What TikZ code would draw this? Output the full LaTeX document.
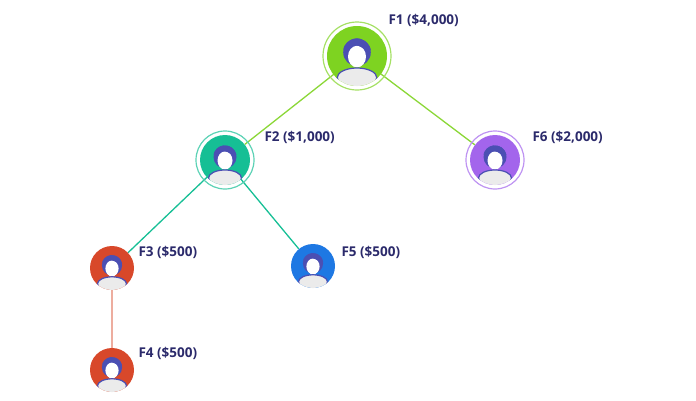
\documentclass[tikz,border=0pt]{standalone}
\usepackage{fontspec}
\setmainfont{Open Sans}
\definecolor{navy}{HTML}{2B2A6B}
\definecolor{hair}{HTML}{4B4FB3}
\definecolor{cgreen}{HTML}{7ED321}
\definecolor{cteal}{HTML}{16BF95}
\definecolor{cpurple}{HTML}{A365EC}
\definecolor{cred}{HTML}{D8482A}
\definecolor{cblue}{HTML}{1E78E3}
\tikzset{
  person/.style={circle,inner sep=0pt,minimum size=#1},
  lbl/.style={text=navy,font=\bfseries\fontsize{13.5}{15}\selectfont,anchor=west},
  pics/avatar/.style n args={3}{code={
    \fill[#2] (0,0) circle (#1);
    \begin{scope}
      \clip (0,0) circle (#1);
      \fill[hair] (0,0.12*#1) circle (0.46*#1);
      \fill[white] (0,-0.02*#1) ellipse ({0.3*#1} and {0.36*#1});
      \fill[hair] (-0.44*#1,0.25*#1) .. controls (-0.2*#1,0.5*#1) and (0.2*#1,0.32*#1) .. (0.34*#1,0.15*#1) -- (0.46*#1,0.2*#1) arc (10:170:0.47*#1) -- cycle;
      \filldraw[fill=black!8,draw=hair,line width=1.2pt] (0,-0.72*#1) ellipse ({0.66*#1} and {0.32*#1});
    \end{scope}
    \ifnum#3=1 \draw[#2!70,line width=1.2pt] (0,0) circle (#1+4pt); \fi
  }}
}
\begin{document}
\begin{tikzpicture}[x=1pt,y=-1pt]
\useasboundingbox (0,0) rectangle (696,400);
\node[person=60] (f1) at (357,56) {};
\node[person=50] (f2) at (225,160) {};
\node[person=50] (f6) at (495,160) {};
\node[person=44] (f3) at (112,268) {};
\node[person=44] (f5) at (313,266) {};
\node[person=44] (f4) at (112,370) {};
\draw[cgreen!90,line width=1.3pt] (f2) -- (f1.center) -- (f6);
\draw[cteal,line width=1.3pt] (f3) -- (f2.center) -- (f5);
\draw[cred!45,line width=1.2pt] (f3) -- (f4);
\pic[yscale=-1] at (f1) {avatar={30}{cgreen}{1}};
\pic[yscale=-1] at (f2) {avatar={25}{cteal}{1}};
\pic[yscale=-1] at (f6) {avatar={25}{cpurple}{1}};
\pic[yscale=-1] at (f3) {avatar={22}{cred}{0}};
\pic[yscale=-1] at (f5) {avatar={22}{cblue}{0}};
\pic[yscale=-1] at (f4) {avatar={22}{cred}{0}};
\node[lbl] (t1) at (385,20) {F1 (\$4,000)};
\node[lbl] (t2) at (261,137) {F2 (\$1,000)};
\node[lbl] (t6) at (529,137) {F6 (\$2,000)};
\node[lbl] (t3) at (135,252) {F3 (\$500)};
\node[lbl] (t5) at (338,252) {F5 (\$500)};
\node[lbl] (t4) at (135,353) {F4 (\$500)};
\end{tikzpicture}
\end{document}
